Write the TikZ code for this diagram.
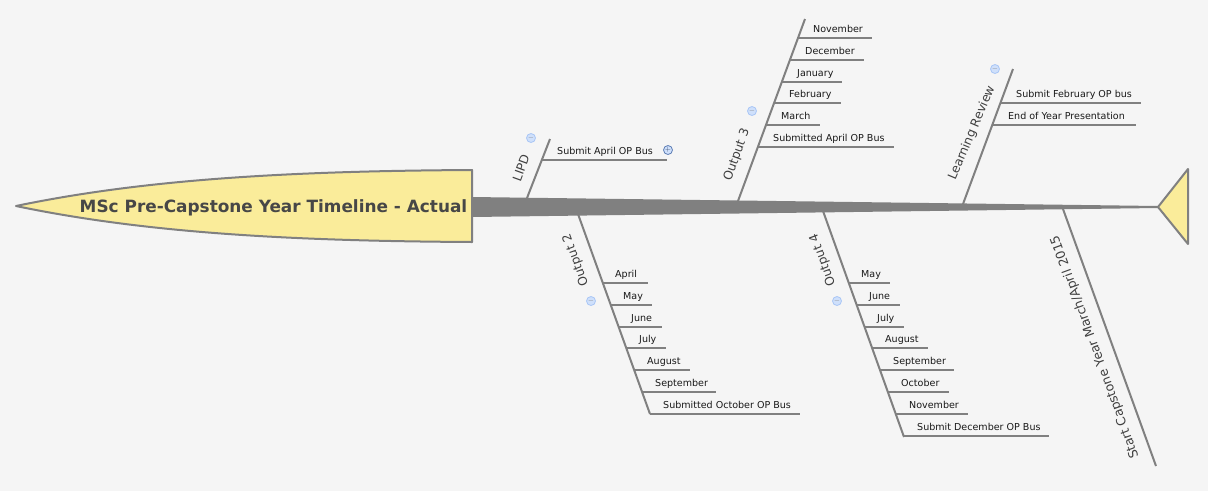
\documentclass[tikz,border=0pt]{standalone}
\usepackage{fontspec}
\setmainfont{DejaVu Sans}
\usepackage{xcolor}
\usetikzlibrary{positioning}
\definecolor{paper}{HTML}{F5F5F5}
\definecolor{bonegray}{HTML}{808080}
\definecolor{headyellow}{HTML}{FAEC9A}
\definecolor{foldblue}{HTML}{CFE0FB}
\definecolor{foldline}{HTML}{A9C6F5}
\definecolor{moreblue}{HTML}{5F7FB5}

\begin{document}
\begin{tikzpicture}[
            x=1pt, y=-1pt,
            bone/.style={draw=bonegray, line width=2pt},
            twig/.style={draw=bonegray, line width=1.8pt},
            shell/.style={draw=bonegray, fill=headyellow, line width=2pt, line join=round},
            item/.style={inner sep=0pt, text height=8pt, text depth=3pt, font=\fontsize{9.55}{11}\selectfont, text=black!90},
            topic/.style={inner sep=0pt, font=\fontsize{12.3}{14}\selectfont, text=black!75},
            fold/.style={circle, draw=foldline, fill=foldblue, line width=0.8pt, minimum size=9pt, inner sep=0pt, font=\fontsize{7}{7}\selectfont, text=bonegray},
            more/.style={fold, draw=moreblue, text=moreblue!60!black}
        ]
        \useasboundingbox[fill=paper] (0,0) rectangle (1208,491);

        % Spine
        \coordinate (headtip) at (16,206);
        \coordinate (headtop) at (472,170);
        \coordinate (headbot) at (472,242);
        \coordinate (spinetop) at (472,197);
        \coordinate (spinebot) at (472,217);
        \coordinate (tailtop0) at (1158,206);
        \coordinate (tailbot0) at (1158,208);
        \coordinate (tailtip) at (1158,207);
        \coordinate (tailtop) at (1188,169);
        \coordinate (tailbot) at (1188,244);
        \fill[bonegray] (spinetop) -- (tailtop0) -- (tailbot0) -- (spinebot) -- cycle;
        \draw[shell] (headtip) .. controls (150,178) and (300,171) .. (headtop) -- (headbot) .. controls (300,241) and (150,234) .. (headtip) -- cycle;
        \draw[shell] (tailtip) -- (tailtop) -- (tailbot) -- cycle;
        \node[inner sep=0pt, font=\bfseries\fontsize{16.9}{20}\selectfont, text=black!72] (title) at (273.5,208) {MSc Pre-Capstone Year Timeline - Actual};

        % LIPD
        \coordinate (lipdroot) at (527,198);
        \coordinate (lipdend) at (550,139);
        \draw[bone] (lipdroot) -- (lipdend);
        \node[topic, rotate=70] (lipd) at (521,168) {LIPD};
        \node[fold] (lipdfold) at (531,138) {$-$};
        \coordinate (aprbusl) at (541,160);
        \coordinate[right=126pt of aprbusl] (aprbusr);
        \draw[twig] (aprbusl) -- (aprbusr);
        \node[item, above right=2pt and 16pt of aprbusl] (aprbus) {Submit April OP Bus};
        \node[more] (aprbusmore) at (668,150) {$+$};

        % Output 3
        \coordinate (out3root) at (738,201);
        \coordinate (out3end) at (805,19);
        \draw[bone] (out3root) -- (out3end);
        \node[topic, rotate=70] (out3) at (737,155) {Output 3};
        \node[fold] (out3fold) at (752,111) {$-$};
        \coordinate (novl) at (798,38);
        \coordinate[right=74pt of novl] (novr);
        \draw[twig] (novl) -- (novr);
        \node[item, above right=2pt and 15pt of novl] (nov) {November};
        \coordinate (decl) at (790,60);
        \coordinate[right=74pt of decl] (decr);
        \draw[twig] (decl) -- (decr);
        \node[item, above right=2pt and 15pt of decl] (dec) {December};
        \coordinate (janl) at (782,82);
        \coordinate[right=60pt of janl] (janr);
        \draw[twig] (janl) -- (janr);
        \node[item, above right=2pt and 15pt of janl] (jan) {January};
        \coordinate (febl) at (774,103);
        \coordinate[right=67pt of febl] (febr);
        \draw[twig] (febl) -- (febr);
        \node[item, above right=2pt and 15pt of febl] (feb) {February};
        \coordinate (marl) at (766,125);
        \coordinate[right=54pt of marl] (marr);
        \draw[twig] (marl) -- (marr);
        \node[item, above right=2pt and 15pt of marl] (mar) {March};
        \coordinate (subaprl) at (758,147);
        \coordinate[right=136pt of subaprl] (subaprr);
        \draw[twig] (subaprl) -- (subaprr);
        \node[item, above right=2pt and 15pt of subaprl] (subapr) {Submitted April OP Bus};

        % Learning Review
        \coordinate (learnroot) at (963,204);
        \coordinate (learnend) at (1013,69);
        \draw[bone] (learnroot) -- (learnend);
        \node[topic, rotate=67] (learn) at (972,133) {Learning Review};
        \node[fold] (learnfold) at (995,69) {$-$};
        \coordinate (subfebl) at (1001,103);
        \coordinate[right=140pt of subfebl] (subfebr);
        \draw[twig] (subfebl) -- (subfebr);
        \node[item, above right=2pt and 15pt of subfebl] (subfeb) {Submit February OP bus};
        \coordinate (yearendl) at (993,125);
        \coordinate[right=143pt of yearendl] (yearendr);
        \draw[twig] (yearendl) -- (yearendr);
        \node[item, above right=2pt and 15pt of yearendl] (yearend) {End of Year Presentation};

        % Output 2
        \coordinate (out2root) at (578,214);
        \coordinate (out2end) at (650,414);
        \draw[bone] (out2root) -- (out2end);
        \node[topic, rotate=110] (out2) at (576,260) {Output 2};
        \node[fold] (out2fold) at (591,301) {$-$};
        \coordinate (apr2l) at (602,283);
        \coordinate[right=46pt of apr2l] (apr2r);
        \draw[twig] (apr2l) -- (apr2r);
        \node[item, above right=2pt and 13pt of apr2l] (apr2) {April};
        \coordinate (may2l) at (610,305);
        \coordinate[right=42pt of may2l] (may2r);
        \draw[twig] (may2l) -- (may2r);
        \node[item, above right=2pt and 13pt of may2l] (may2) {May};
        \coordinate (jun2l) at (618,327);
        \coordinate[right=44pt of jun2l] (jun2r);
        \draw[twig] (jun2l) -- (jun2r);
        \node[item, above right=2pt and 13pt of jun2l] (jun2) {June};
        \coordinate (jul2l) at (626,348);
        \coordinate[right=40pt of jul2l] (jul2r);
        \draw[twig] (jul2l) -- (jul2r);
        \node[item, above right=2pt and 13pt of jul2l] (jul2) {July};
        \coordinate (aug2l) at (634,370);
        \coordinate[right=56pt of aug2l] (aug2r);
        \draw[twig] (aug2l) -- (aug2r);
        \node[item, above right=2pt and 13pt of aug2l] (aug2) {August};
        \coordinate (sep2l) at (642,392);
        \coordinate[right=74pt of sep2l] (sep2r);
        \draw[twig] (sep2l) -- (sep2r);
        \node[item, above right=2pt and 13pt of sep2l] (sep2) {September};
        \coordinate (suboctl) at (650,414);
        \coordinate[right=150pt of suboctl] (suboctr);
        \draw[twig] (suboctl) -- (suboctr);
        \node[item, above right=2pt and 13pt of suboctl] (suboct) {Submitted October OP Bus};

        % Output 4
        \coordinate (out4root) at (823,211);
        \coordinate (out4end) at (904,437);
        \draw[bone] (out4root) -- (out4end);
        \node[topic, rotate=110] (out4) at (823,260) {Output 4};
        \node[fold] (out4fold) at (837,301) {$-$};
        \coordinate (may4l) at (848,283);
        \coordinate[right=42pt of may4l] (may4r);
        \draw[twig] (may4l) -- (may4r);
        \node[item, above right=2pt and 13pt of may4l] (may4) {May};
        \coordinate (jun4l) at (856,305);
        \coordinate[right=44pt of jun4l] (jun4r);
        \draw[twig] (jun4l) -- (jun4r);
        \node[item, above right=2pt and 13pt of jun4l] (jun4) {June};
        \coordinate (jul4l) at (864,327);
        \coordinate[right=40pt of jul4l] (jul4r);
        \draw[twig] (jul4l) -- (jul4r);
        \node[item, above right=2pt and 13pt of jul4l] (jul4) {July};
        \coordinate (aug4l) at (872,348);
        \coordinate[right=56pt of aug4l] (aug4r);
        \draw[twig] (aug4l) -- (aug4r);
        \node[item, above right=2pt and 13pt of aug4l] (aug4) {August};
        \coordinate (sep4l) at (880,370);
        \coordinate[right=74pt of sep4l] (sep4r);
        \draw[twig] (sep4l) -- (sep4r);
        \node[item, above right=2pt and 13pt of sep4l] (sep4) {September};
        \coordinate (oct4l) at (888,392);
        \coordinate[right=61pt of oct4l] (oct4r);
        \draw[twig] (oct4l) -- (oct4r);
        \node[item, above right=2pt and 13pt of oct4l] (oct4) {October};
        \coordinate (nov4l) at (896,414);
        \coordinate[right=72pt of nov4l] (nov4r);
        \draw[twig] (nov4l) -- (nov4r);
        \node[item, above right=2pt and 13pt of nov4l] (nov4) {November};
        \coordinate (subdecl) at (904,436);
        \coordinate[right=145pt of subdecl] (subdecr);
        \draw[twig] (subdecl) -- (subdecr);
        \node[item, above right=2pt and 13pt of subdecl] (subdec) {Submit December OP Bus};

        % Start of capstone
        \coordinate (startroot) at (1063,209);
        \coordinate (startend) at (1156,466);
        \draw[bone] (startroot) -- (startend);
        \node[topic, rotate=110, font=\fontsize{12.6}{14}\selectfont] (start) at (1095,347) {Start Capstone Year March/April 2015};

    \end{tikzpicture}
\end{document}
